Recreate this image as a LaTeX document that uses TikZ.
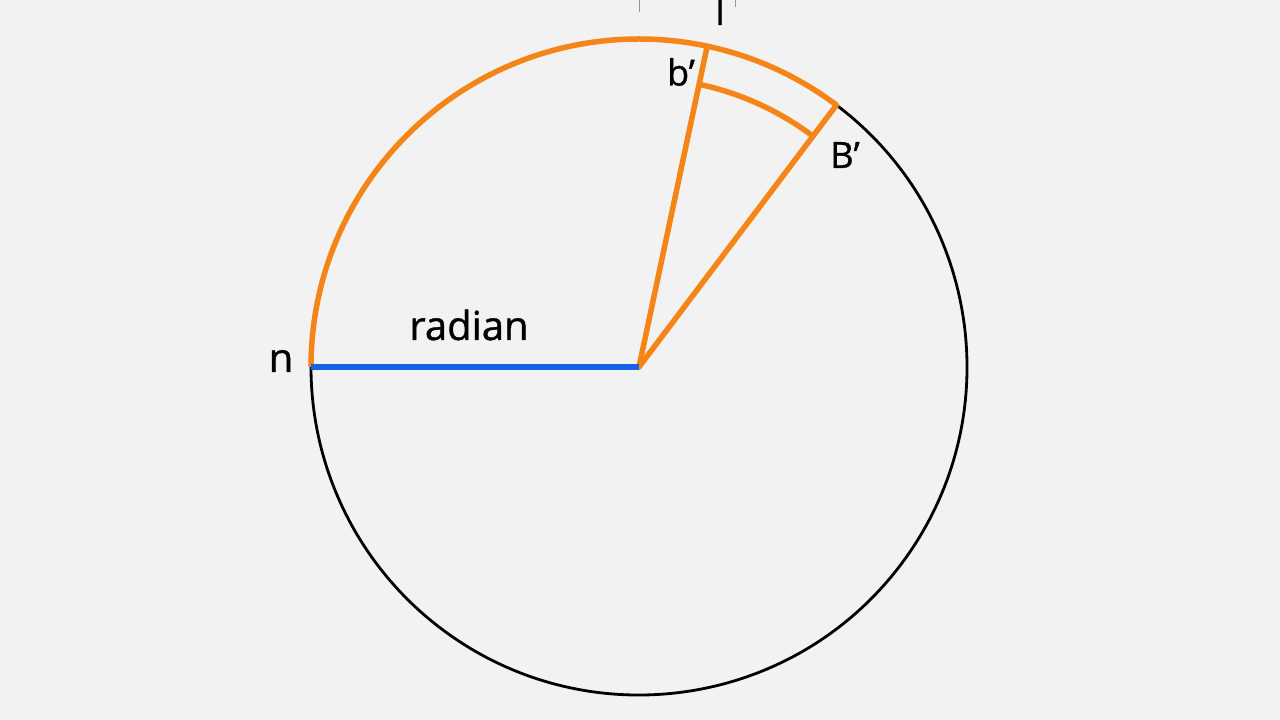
\documentclass[tikz,border=0pt]{standalone}
\usepackage{fontspec}
\setmainfont{Open Sans}
\newfontfamily\lblfont{Open Sans}[FakeBold=1.0]
\usetikzlibrary{calc}
\definecolor{bg}{RGB}{242,242,242}
\definecolor{arcorange}{RGB}{246,133,24}
\definecolor{radblue}{RGB}{22,98,232}
\definecolor{tickgray}{RGB}{150,150,150}
\begin{document}
\begin{tikzpicture}[x=1pt,y=1pt,
  orangeline/.style={draw=arcorange,line width=5.5pt},
  circline/.style={draw=black,line width=2.8pt},
  blueline/.style={draw=radblue,line width=5.5pt},
  lbl/.style={inner sep=0pt,text=black},
  tickline/.style={draw=tickgray,line width=0.8pt}]
\fill[bg] (0,0) rectangle (1280,720);
\useasboundingbox (0,0) rectangle (1280,720);
\coordinate (O) at (639,353);
\coordinate (L) at ($(O)+(180:328)$);
\coordinate (Bp) at ($(O)+(53:328)$);
\coordinate (bp) at ($(O)+(78:328)$);
\coordinate (Bi) at ($(O)+(53:289)$);
% black part of circle
\draw[circline] (Bp) arc[start angle=53,end angle=-180,radius=328];
% orange arc
\draw[orangeline] (L) arc[start angle=180,end angle=53,radius=328];
% sector
\draw[orangeline,line cap=round] (O) -- (bp);
\draw[orangeline,line cap=round] (O) -- (Bp);
\draw[orangeline] (Bi) arc[start angle=53,end angle=78,radius=289];
% radius
\draw[blueline] (L) -- (O);
% labels
\node[lbl,font=\lblfont\fontsize{36}{40}\selectfont] (lb) at (681,648) {b’};
\node[lbl,font=\lblfont\fontsize{36}{40}\selectfont] (lB) at (845,565) {B’};
\node[lbl,font=\lblfont\fontsize{40}{44}\selectfont] (ln) at (281,359) {n};
\node[lbl,font=\lblfont\fontsize{40}{44}\selectfont] (lr) at (469,395) {radian};
\node[lbl,font=\lblfont\fontsize{36}{40}\selectfont] (lI) at (720,708) {I};
\coordinate (t1a) at (639,720);
\coordinate (t1b) at (639,708);
\coordinate (t2a) at (735,720);
\coordinate (t2b) at (735,713);
\draw[tickline] (t1a) -- (t1b);
\draw[tickline] (t2a) -- (t2b);
\end{tikzpicture}
\end{document}
